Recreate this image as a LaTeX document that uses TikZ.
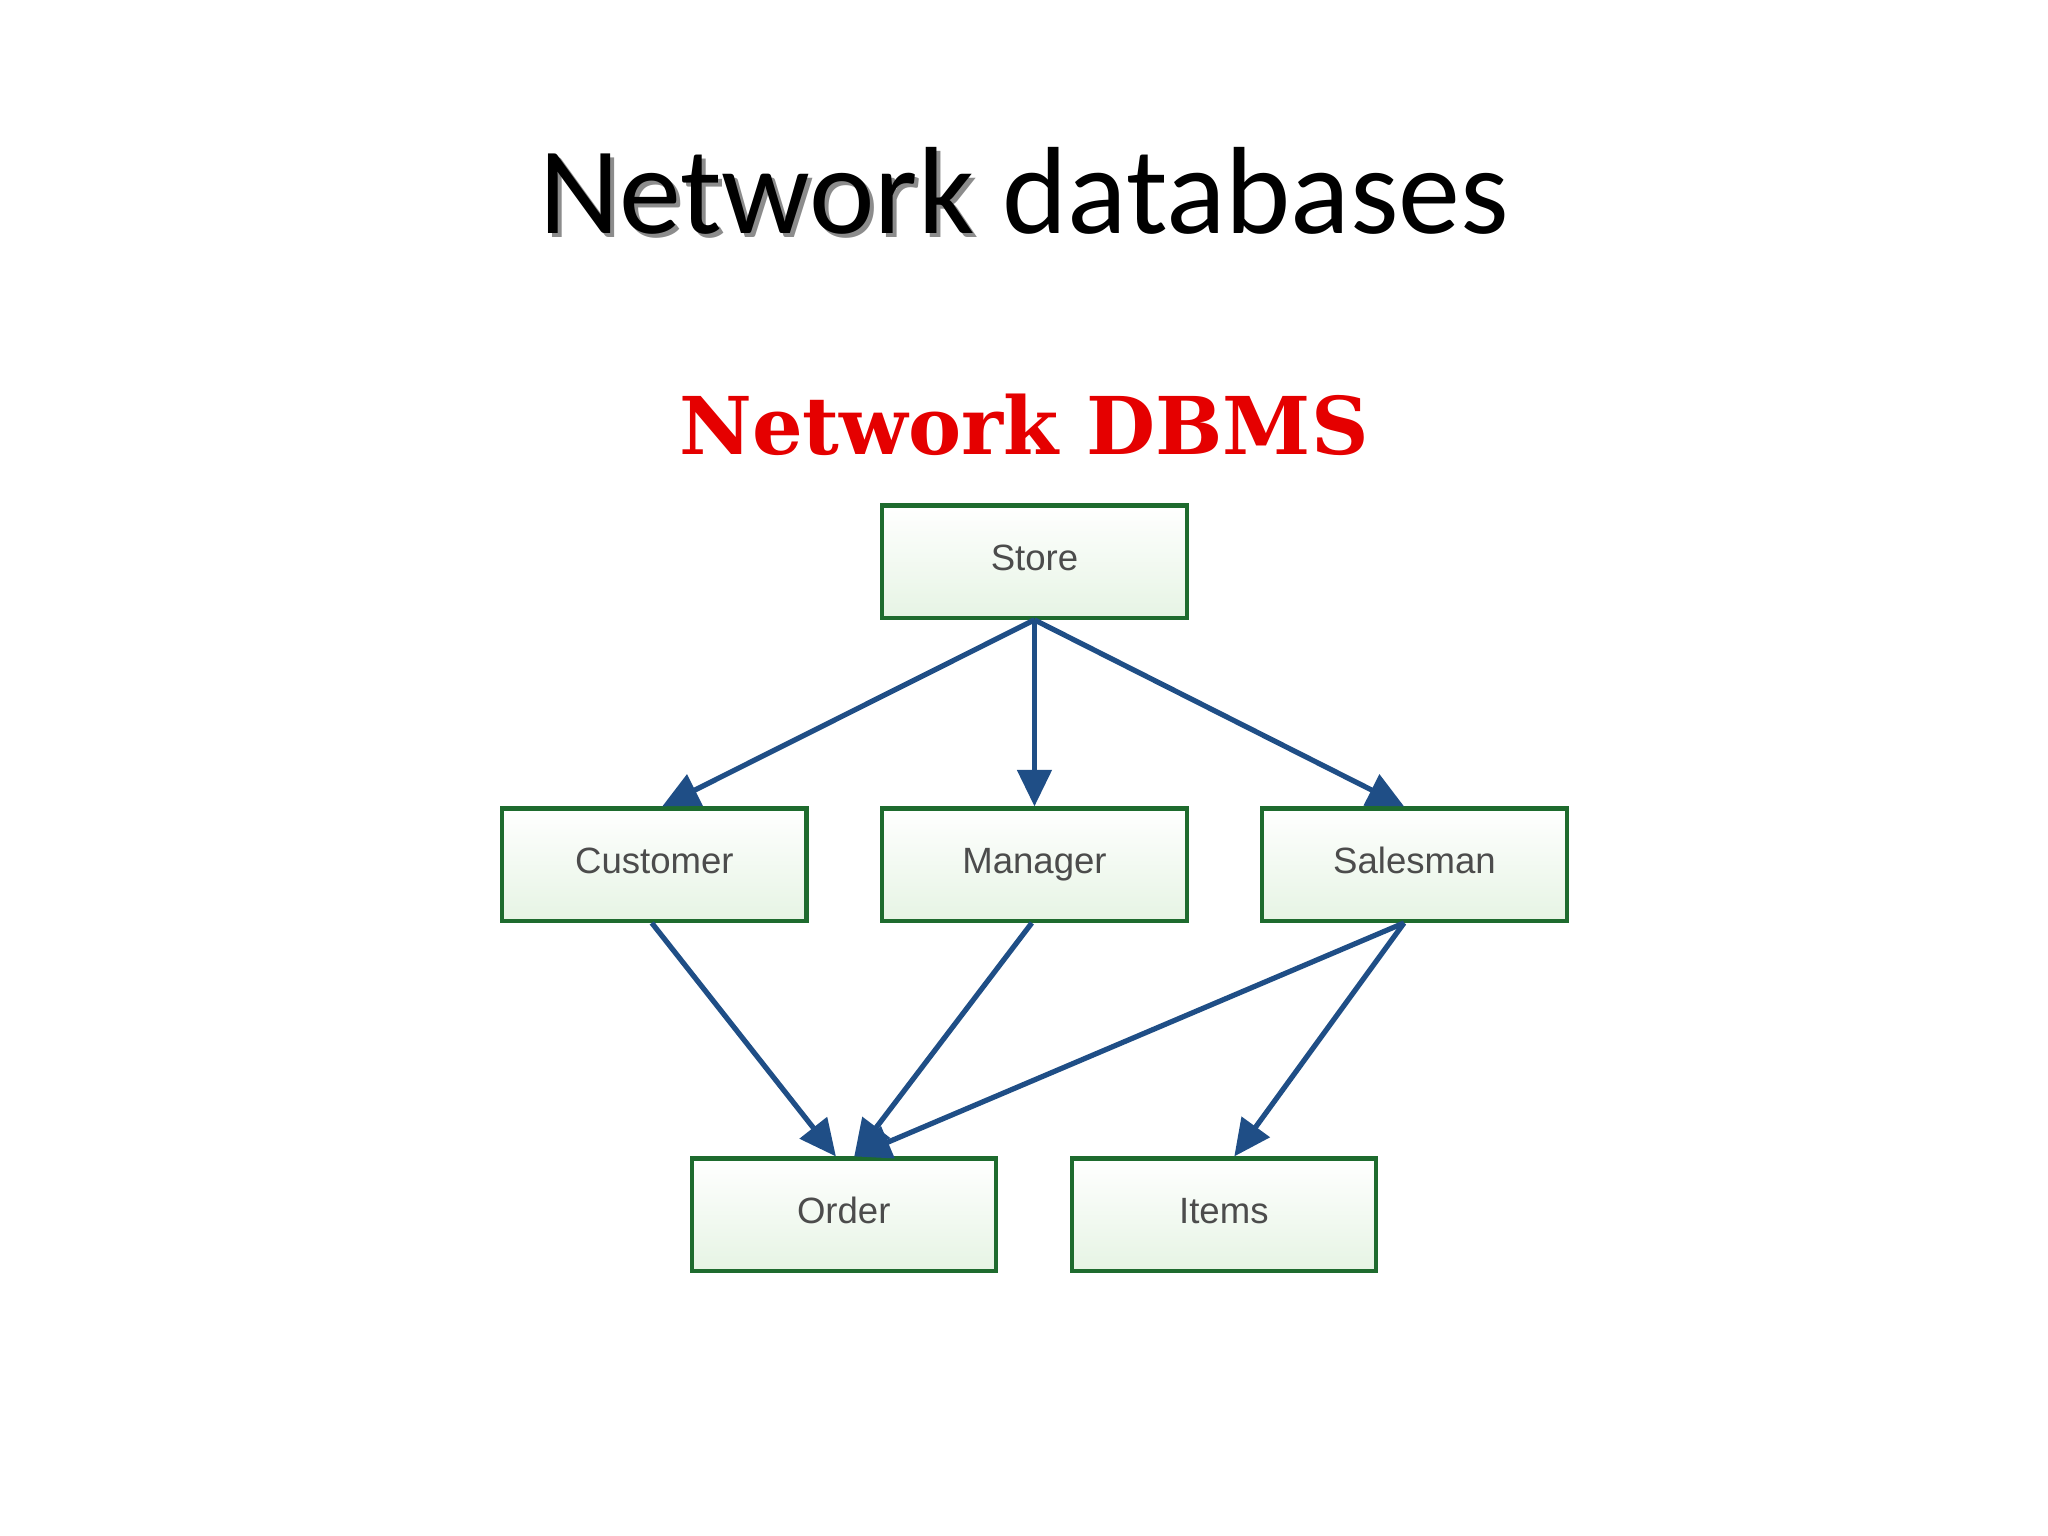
\documentclass[tikz,border=0pt]{standalone}
\usepackage{fontspec}
\setmainfont{Carlito}
\newfontfamily\boxfont{Liberation Sans}
\newfontfamily\serifb{DejaVu Serif}
\usetikzlibrary{arrows.meta,shadows}
\definecolor{arr}{HTML}{1F4E86}
\definecolor{bdr}{HTML}{1E6B2E}
\definecolor{boxin}{HTML}{E6F4E4}
\begin{document}
\begin{tikzpicture}[x=0.5pt,y=-0.5pt,
 box/.style={draw=bdr,line width=1.6pt,top color=white,bottom color=boxin,minimum width=116.5pt,minimum height=43pt,inner sep=0pt,font=\boxfont\fontsize{14}{16}\selectfont,text=black!70,text height=10pt,text depth=3pt},
 ar/.style={draw=arr,line width=2pt,-{Triangle[length=14pt,width=13pt]}}]
\useasboundingbox (0,0) rectangle (1568,1176);
\node (t) at (784,148) {\fontsize{47.5}{52}\selectfont \textcolor{black!45}{\makebox[0pt][l]{\hspace{1.5pt}\raisebox{-1.5pt}{Network}}}Network databases};
\node (st) at (784,325) {\serifb\bfseries\fontsize{30.5}{34}\selectfont\textcolor{red!90!black}{Network DBMS}};
\node[box] (store) at (792,430) {Store};
\node[box] (cust) at (501,662) {Customer};
\node[box] (man) at (792,662) {Manager};
\node[box] (sal) at (1083,662) {Salesman};
\node[box] (ord) at (646,930) {Order};
\node[box] (itm) at (937,930) {Items};
\draw[ar] (store.south) -- ([xshift=3pt]cust.north);
\draw[ar] (store.south) -- (man.north);
\draw[ar] (store.south) -- ([xshift=-4pt]sal.north);
\draw[ar] ([xshift=-1pt]cust.south) -- ([xshift=-3pt]ord.north);
\draw[ar] ([xshift=-1pt]man.south) -- ([xshift=4pt]ord.north);
\draw[ar] ([xshift=-4pt]sal.south) -- ([xshift=4pt]ord.north);
\draw[ar] ([xshift=-4pt]sal.south) -- ([xshift=4pt]itm.north);
\end{tikzpicture}
\end{document}
